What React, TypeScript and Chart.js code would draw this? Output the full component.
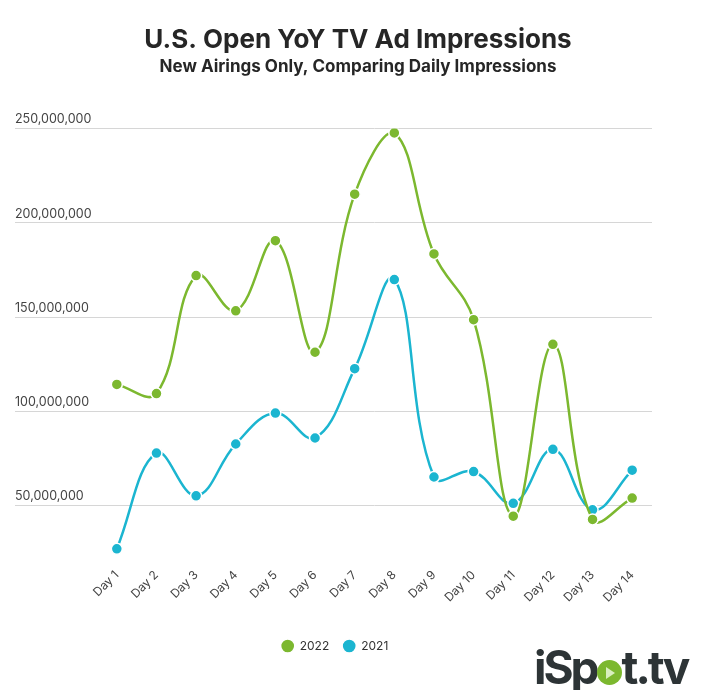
import React, { useEffect, useRef } from 'react';
import { Chart, registerables } from 'chart.js';

Chart.register(...registerables);

const DAYS = ['Day 1', 'Day 2', 'Day 3', 'Day 4', 'Day 5', 'Day 6', 'Day 7', 'Day 8', 'Day 9', 'Day 10', 'Day 11', 'Day 12', 'Day 13', 'Day 14'];
const IMPRESSIONS_2022 = [114.2e6, 109.4e6, 172.0e6, 153.3e6, 190.5e6, 131.3e6, 215.2e6, 247.7e6, 183.5e6, 148.6e6, 44.3e6, 135.5e6, 42.6e6, 53.9e6];
const IMPRESSIONS_2021 = [27.0e6, 77.8e6, 55.1e6, 82.6e6, 99.0e6, 85.8e6, 122.6e6, 169.9e6, 65.1e6, 68.0e6, 51.1e6, 79.8e6, 47.7e6, 68.7e6];
const Y_TICKS = [50e6, 100e6, 150e6, 200e6, 250e6];
const Y_MIN = 20e6;
const Y_MAX = 250e6;

const GREEN = '#7cb82f';
const BLUE = '#1bb5d0';
const FONT = 'Inter, "Open Sans", sans-serif';

const legendShift = {
  id: 'legendShift',
  afterLayout(chart: any) {
    const l = chart.legend;
    if (l) {
      l.left -= 23;
      l.right -= 23;
    }
  },
};

export default function App() {
  const canvasRef = useRef<HTMLCanvasElement | null>(null);

  useEffect(() => {
    if (!canvasRef.current) return;
    const chart = new Chart(canvasRef.current, {
      type: 'line',
      data: {
        labels: DAYS,
        datasets: [
          {
            label: '2022',
            data: IMPRESSIONS_2022,
            borderColor: GREEN,
            backgroundColor: GREEN,
            pointBackgroundColor: GREEN,
            pointBorderColor: '#ffffff',
            pointBorderWidth: 1.5,
            pointRadius: 5.5,
            borderWidth: 2.5,
            tension: 0.4,
          },
          {
            label: '2021',
            data: IMPRESSIONS_2021,
            borderColor: BLUE,
            backgroundColor: BLUE,
            pointBackgroundColor: BLUE,
            pointBorderColor: '#ffffff',
            pointBorderWidth: 1.5,
            pointRadius: 5.5,
            borderWidth: 2.5,
            tension: 0.4,
          },
        ],
      },
      options: {
        animation: false,
        responsive: false,
        maintainAspectRatio: false,
        layout: { padding: { left: 7, right: 0, top: 0, bottom: 28 } },
        plugins: {
          title: {
            display: true,
            text: 'U.S. Open YoY TV Ad Impressions',
            color: '#262626',
            font: { family: FONT, size: 26, weight: 'bold' },
            padding: { top: 17, bottom: 0 },
          },
          subtitle: {
            display: true,
            text: 'New Airings Only, Comparing Daily Impressions',
            color: '#262626',
            font: { family: FONT, size: 17, weight: 'bold' },
            padding: { top: 0, bottom: 52 },
          },
          legend: {
            position: 'bottom',
            labels: {
              usePointStyle: true,
              pointStyle: 'circle',
              boxWidth: 14,
              boxHeight: 10,
              padding: 14,
              color: '#333333',
              font: { family: FONT, size: 12 },
            },
          },
          tooltip: { enabled: false },
        },
        scales: {
          x: {
            offset: true,
            grid: { display: false, drawTicks: false },
            border: { display: false },
            afterFit: (scale: any) => {
              scale.height += 15;
            },
            ticks: {
              minRotation: 45,
              maxRotation: 45,
              color: '#444444',
              font: { family: FONT, size: 12 },
              padding: 6,
            },
          },
          y: {
            min: Y_MIN,
            max: Y_MAX,
            afterBuildTicks: (scale: any) => {
              scale.ticks = Y_TICKS.map((v) => ({ value: v }));
            },
            afterFit: (scale: any) => {
              scale.width = 82;
            },
            border: { display: false },
            grid: { color: '#d6d6d6', tickLength: 82, drawTicks: true },
            ticks: {
              crossAlign: 'far',
              labelOffset: -9,
              padding: 0,
              color: '#444444',
              font: { family: FONT, size: 12.5 },
              callback: (v: any) => Number(v).toLocaleString('en-US'),
            },
          },
          yRight: {
            type: 'linear',
            position: 'right',
            min: Y_MIN,
            max: Y_MAX,
            grid: { display: false },
            border: { display: false },
            ticks: { display: false },
            afterFit: (scale: any) => {
              scale.width = 49;
            },
          },
        },
      },
      plugins: [legendShift],
    });
    return () => chart.destroy();
  }, []);

  return (
    <div style={{ position: 'relative', width: 693, height: 682 }}>
      <canvas ref={canvasRef} width={693} height={682} style={{ display: 'block' }} />
      <div
        style={{
          position: 'absolute',
          left: 526,
          top: 636,
          fontFamily: FONT,
          fontWeight: 700,
          fontSize: 46,
          letterSpacing: -3,
          lineHeight: 1,
          color: '#2d3436',
          whiteSpace: 'nowrap',
          display: 'flex',
          alignItems: 'baseline',
        }}
      >
        <span>iSp</span>
        <span
          style={{
            display: 'inline-block',
            position: 'relative',
            width: 25,
            height: 25,
            borderRadius: '50%',
            background: GREEN,
            top: 1,
          }}
        >
          <span
            style={{
              position: 'absolute',
              left: 9,
              top: 6.5,
              width: 0,
              height: 0,
              borderTop: '6px solid transparent',
              borderBottom: '6px solid transparent',
              borderLeft: '9px solid #d9efbf',
            }}
          />
        </span>
        <span>t.tv</span>
      </div>
    </div>
  );
}
